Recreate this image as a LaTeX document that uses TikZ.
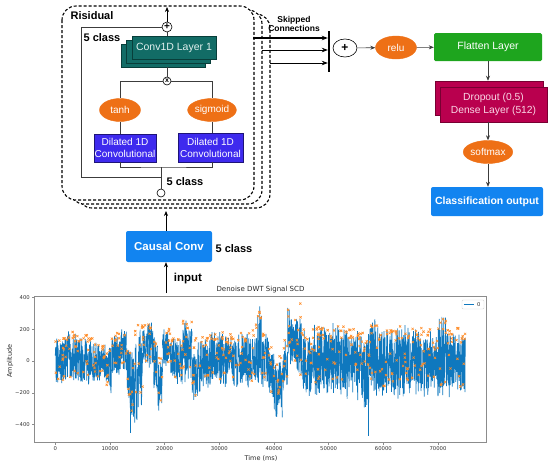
\documentclass[tikz,border=0pt]{standalone}
\usepackage{fontspec}
\setmainfont{Liberation Sans}
\newfontfamily\plotfont{DejaVu Sans}
\usetikzlibrary{shapes.geometric,arrows.meta}
\definecolor{tealc}{RGB}{18,108,102}
\definecolor{tealb}{RGB}{8,62,58}
\definecolor{orng}{RGB}{238,112,22}
\definecolor{viol}{RGB}{62,42,238}
\definecolor{violb}{RGB}{30,20,120}
\definecolor{bluec}{RGB}{18,132,240}
\definecolor{grn}{RGB}{30,165,30}
\definecolor{crim}{RGB}{185,0,78}
\definecolor{crimb}{RGB}{120,0,50}
\definecolor{mplblue}{RGB}{15,120,190}
\definecolor{mplorange}{RGB}{255,140,40}
\definecolor{conn}{RGB}{60,60,60}
\definecolor{axg}{RGB}{140,140,140}
\begin{document}
\begin{tikzpicture}[x=1pt,y=-1pt,
  dbox/.style={draw=black, line width=1.1pt, dash pattern=on 3pt off 2pt, rounded corners=14pt, fill=white},
  wire/.style={draw=conn, line width=0.6pt},
  arr/.style={draw=conn, line width=0.6pt, -{Stealth[length=5pt,width=4pt]}},
  karr/.style={draw=black, line width=0.7pt, -{Stealth[length=6pt,width=4.5pt]}},
  oval/.style={ellipse, fill=orng, draw=orng, text=white, minimum width=41pt, minimum height=23pt, inner sep=0pt, font=\fontsize{10}{12}\selectfont},
  dilbox/.style={rectangle, fill=viol, draw=violb, line width=0.5pt, text=white, minimum width=62pt, minimum height=28pt, inner sep=0pt, align=center, font=\fontsize{10}{12}\selectfont},
  convbox/.style={rectangle, fill=tealc, draw=tealb, line width=0.6pt, minimum width=84pt, minimum height=23pt, inner sep=0pt, text={rgb,255:red,225;green,240;blue,238}, font=\fontsize{10.5}{12}\selectfont},
  opc/.style={circle, draw=black, fill=white, line width=0.6pt, inner sep=0pt},
  bluebox/.style={rectangle, rounded corners=2pt, fill=bluec, text=white, font=\fontsize{11.5}{13}\selectfont\bfseries, inner sep=0pt},
  lbl/.style={font=\fontsize{11}{13}\selectfont\bfseries, inner sep=0pt},
  crbox/.style={rectangle, fill=crim, draw=crimb, line width=0.5pt, inner sep=0pt, text={rgb,255:red,250;green,215;blue,230}, align=center, font=\fontsize{10.3}{12.5}\selectfont},
  sig/.style={draw=mplblue, line width=0.7pt, line join=bevel},
  mk/.style={draw=mplorange, line width=0.6pt},
  tk/.style={draw=axg, line width=0.5pt},
  tl/.style={font=\plotfont\fontsize{5.3}{6}\selectfont, text={rgb,255:red,50;green,50;blue,50}, inner sep=0pt}
]
\useasboundingbox (0,0) rectangle (550,467);
% ---------- dashed residual boxes ----------
\draw[dbox] (78,14) rectangle (270,208);
\draw[dbox] (70,10) rectangle (262,204);
\draw[dbox] (62,6) rectangle (254,200);
\node[lbl] (risid) at (92,16) {Risidual};
\node[lbl] (r5a) at (102,38) {5 class};
% ---------- residual block contents ----------
\node[opc, minimum size=10pt, font=\fontsize{10}{10}\selectfont\bfseries] (plus1) at (167,27) {+};
\node[convbox] (cv3) at (163,55.5) {};
\node[convbox] (cv2) at (168.5,51.5) {};
\node[convbox] (conv) at (174,47.5) {Conv1D Layer 1};
\node[opc, minimum size=8pt, font=\fontsize{7}{7}\selectfont\bfseries] (times) at (167,81) {x};
\node[oval] (tanh) at (120,110) {tanh};
\node[oval, minimum width=42pt] (sigm) at (212,110) {sigmoid};
\node[dilbox] (dil1) at (125,148) {Dilated 1D\\Convolutional};
\node[dilbox, minimum width=65pt, minimum height=29pt] (dil2) at (210.5,147.5) {Dilated 1D\\Convolutional};
\node[opc, minimum size=8pt] (bc) at (161,193) {};
\node[lbl] (r5b) at (185,182) {5 class};
\coordinate (jn) at (161,167);
\coordinate (rl) at (161,177);
\coordinate (lb) at (81,177);
\coordinate (lt) at (81,27);
\coordinate (rtop) at (167,7);
\draw[wire] (plus1.south) -- (plus1.south |- conv.north);
\draw[wire] (times.north |- cv3.south) -- (times.north);
\draw[wire] (times.west) -| (tanh.north);
\draw[wire] (times.east) -| (sigm.north);
\draw[wire] (tanh.south) -- (tanh.south |- dil1.north);
\draw[wire] (sigm.south) -- (sigm.south |- dil2.north);
\draw[wire] (tanh.south |- dil1.south) |- (jn) -| (sigm.south |- dil2.south);
\draw[wire] (jn) -- (bc.north);
\draw[wire] (rl) -- (lb) -- (lt) -- (plus1.west);
\draw[arr, draw=black] (plus1.north) -- (rtop);
% ---------- causal conv / input ----------
\node[bluebox, minimum width=86pt, minimum height=31pt] (causal) at (169,246.5) {Causal Conv};
\node[lbl] (c5) at (234,249) {5 class};
\node[lbl, font=\fontsize{11.5}{13}\selectfont\bfseries] (inlab) at (188,279) {input};
\coordinate (bin) at (166,211);
\coordinate (inp) at (166,293);
\draw[arr, draw=black] (bin |- causal.north) -- (bin);
\draw[arr, draw=black] (inp) -- (inp |- causal.south);
% ---------- skip connections ----------
\coordinate (s1) at (253,38);
\coordinate (s2) at (262,50);
\coordinate (s3) at (270,63);
\node[fill=black, inner sep=0pt, minimum width=2pt, minimum height=41pt] (bar) at (329,51.5) {};
\draw[karr, line width=1.1pt] (s1) -- (s1 -| bar.west);
\draw[karr] (s2) -- (s2 -| bar.west);
\draw[karr] (s3) -- (s3 -| bar.west);
\node[font=\fontsize{8.5}{9.5}\selectfont\bfseries, align=center, inner sep=0pt] (skiplab) at (294,24) {Skipped\\Connections};
\node[ellipse, draw=black, line width=0.6pt, minimum width=24pt, minimum height=18pt, inner sep=0pt, font=\fontsize{12}{12}\selectfont\bfseries] (plus2) at (345,48) {+};
\node[oval] (relu) at (396,47.5) {relu};
\node[rectangle, rounded corners=1.5pt, fill=grn, text=white, minimum width=108pt, minimum height=28pt, inner sep=0pt, font=\fontsize{10.5}{12}\selectfont] (flat) at (488,47) {Flatten Layer};
\node[crbox, minimum width=108pt, minimum height=34pt] (dropb) at (489,98) {};
\node[crbox, minimum width=107pt, minimum height=35pt] (drop) at (493.5,104.5) {Dropout (0.5)\\Dense Layer (512)};
\node[oval, minimum width=42pt] (soft) at (488,152) {softmax};
\node[bluebox, minimum width=112pt, minimum height=29pt, font=\fontsize{10.5}{12}\selectfont\bfseries] (cls) at (487,201.5) {Classification output};
\draw[arr] (plus2) -- (relu);
\draw[arr] (relu) -- (flat);
\draw[arr] (flat.south) -- (flat.south |- dropb.north);
\draw[arr] (flat.south |- drop.south) -- (flat.south |- soft.north);
\draw[arr] (flat.south |- soft.south) -- (flat.south |- cls.north);
% ---------- plot ----------
\node[font=\plotfont\fontsize{7}{8}\selectfont, text={rgb,255:red,40;green,40;blue,40}, inner sep=0pt] (title) at (260.5,290) {Denoise DWT Signal SCD};
\pgfmathsetseed{4242}
\foreach \a/\b/\m/\r in {0/1.5/0/150,1.5/4/20/160,4/6/10/150,6/8/0/140,8/9.3/-20/120,9.3/10.3/-60/150,10.3/12/40/130,12/13/70/140,13/13.7/-80/180,13.7/14.6/-160/230,14.6/15.2/-60/280,15.2/16/0/340,16/17/100/130,17/18/110/140,18/18.7/-20/160,18.7/19.6/-130/170,19.6/21/80/120,21/22/0/140,22/23.3/0/140,23.3/25/70/200,25/26.5/-60/200,26.5/28/-10/160,28/31/20/170,31/34/0/170,34/36/0/170,36/37/50/180,37/37.7/60/280,37.7/39/0/170,39/40/-100/180,40/41.5/-170/190,41.5/42.5/-20/160,42.5/43.5/130/200,43.5/44.5/120/190,44.5/45.2/100/260,45.2/47/-20/210,47/52/0/220,52/56/-10/220,56/57.5/-60/240,57.5/59/30/240,59/65/-10/220,65/70/-10/210,70/72/20/240,72/75/0/210}{
  \pgfmathtruncatemacro\ns{max(3,round((\b-\a)*30))}
  \draw[sig] plot[domain=\a:\b, samples=\ns, variable=\t] ({55.3+5.467*\t},{361-0.159*(\m+1.12*\r*rand*(0.65+0.35*rnd))});
}
\draw[sig] (55.3+5.467*57.2,361+0.159*100) -- (55.3+5.467*57.2,361+0.159*470);
\draw[sig] (55.3+5.467*13.75,361+0.159*150) -- (55.3+5.467*13.75,361+0.159*450);
\pgfmathsetseed{777}
\foreach \a/\b/\m/\r in {0/1.5/0/150,1.5/4/20/160,4/6/10/150,6/8/0/140,8/9.3/-20/120,9.3/10.3/-60/150,10.3/12/40/130,12/13/70/140,13/13.7/-80/180,13.7/14.6/-160/230,14.6/15.2/-60/280,15.2/16/0/340,16/17/100/130,17/18/110/140,18/18.7/-20/160,18.7/19.6/-130/170,19.6/21/80/120,21/22/0/140,22/23.3/0/140,23.3/25/70/200,25/26.5/-60/200,26.5/28/-10/160,28/31/20/170,31/34/0/170,34/36/0/170,36/37/50/180,37/37.7/60/280,37.7/39/0/170,39/40/-100/180,40/41.5/-170/190,41.5/42.5/-20/160,42.5/43.5/130/200,43.5/44.5/120/190,44.5/45.2/100/260,45.2/47/-20/210,47/52/0/220,52/56/-10/220,56/57.5/-60/240,57.5/59/30/240,59/65/-10/220,65/70/-10/210,70/72/20/240,72/75/0/210}{
  \pgfmathtruncatemacro\nm{max(1,round((\b-\a)*7))}
  \foreach \k in {1,...,\nm}{
    \pgfmathsetmacro\px{55.3+5.467*(\a+(\b-\a)*rnd)}
    \pgfmathsetmacro\pv{ifthenelse(rnd>0.6,\m+\r*(0.65+0.4*rnd),\m+\r*0.8*rand)}
    \pgfmathsetmacro\py{361-0.159*\pv}
    \draw[mk] (\px-1.1,\py-1.1) -- (\px+1.1,\py+1.1) (\px-1.1,\py+1.1) -- (\px+1.1,\py-1.1);
  }
}
\draw[draw=axg, line width=0.8pt] (34,296) rectangle (486,442);
\foreach \i/\lab in {0/0,1/10000,2/20000,3/30000,4/40000,5/50000,6/60000,7/70000}{
  \draw[tk] (55.3+54.67*\i,442) -- (55.3+54.67*\i,444.5);
  \node[tl, anchor=north] (xt\i) at (55.3+54.67*\i,446.5) {\lab};
}
\foreach \v/\lab in {400/400,200/200,0/0,-200/−200,-400/−400}{
  \draw[tk] (34,361-0.159*\v) -- (31.5,361-0.159*\v);
  \node[tl, anchor=east] (yt\v) at (30,361-0.159*\v) {\lab};
}
\node[font=\plotfont\fontsize{6.5}{7}\selectfont, text={rgb,255:red,40;green,40;blue,40}, inner sep=0pt] (xlab) at (261,458) {Time (ms)};
\node[font=\plotfont\fontsize{6.5}{7}\selectfont, text={rgb,255:red,40;green,40;blue,40}, inner sep=0pt, rotate=90] (ylab) at (10,361) {Amplitude};
\node[draw={rgb,255:red,210;green,210;blue,210}, fill=white, rounded corners=1pt, minimum width=22pt, minimum height=9pt, inner sep=0pt] (leg) at (473,304.5) {};
\draw[draw=mplblue, line width=0.8pt] ([xshift=2pt]leg.west) -- ([xshift=12pt]leg.west);
\node[tl, anchor=west] (legl) at ([xshift=15pt]leg.west) {0};
\end{tikzpicture}
\end{document}
